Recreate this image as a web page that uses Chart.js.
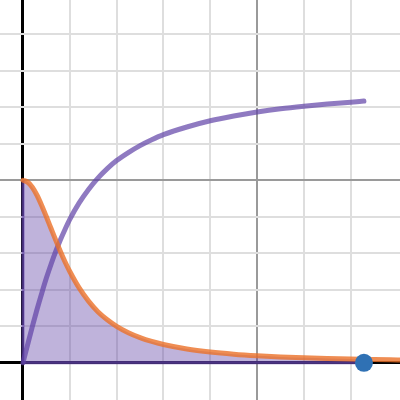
<!DOCTYPE html>
<html>
<head>
<meta charset="utf-8">
<script src="https://cdn.jsdelivr.net/npm/chart.js@4"></script>
<style>
  html, body { margin: 0; padding: 0; background: #fff; }
  canvas { display: block; }
</style>
</head>
<body>
<canvas id="graph" width="400" height="400"></canvas>
<script>
(() => {
  'use strict'

  // x positions (one grid square = 1)
  const xs = [0, 0.1, 0.2, 0.3, 0.4, 0.5, 0.6, 0.7, 0.8, 0.9, 1, 1.2, 1.4, 1.6, 1.8, 2,
    2.25, 2.5, 2.75, 3, 3.5, 4, 4.5, 5, 5.5, 6, 6.5, 7, 7.28, 7.5, 8, 8.1];
  // orange curve (bell-shaped decay)
  const orangeY = [5, 4.95, 4.81, 4.59, 4.31, 4.0, 3.68, 3.36, 3.05, 2.76, 2.5, 2.05, 1.69, 1.40, 1.18, 1.0,
    0.825, 0.69, 0.584, 0.5, 0.377, 0.294, 0.235, 0.192, 0.16, 0.135, 0.116, 0.1, 0.093, 0.087, 0.077, 0.075];
  // purple curve (running area under the orange one), stops at the dot
  const purpleY = [0, 0.5, 0.99, 1.46, 1.9, 2.32, 2.7, 3.05, 3.37, 3.66, 3.93, 4.38, 4.75, 5.06, 5.32, 5.54,
    5.76, 5.95, 6.11, 6.25, 6.46, 6.63, 6.76, 6.87, 6.96, 7.03, 7.09, 7.14, 7.17];
  const dotX = 7.28;
  const dotY = 0;
  const xTicks = [0, 1, 2, 3, 4, 5, 6, 7];
  const yTicks = [0, 1, 2, 3, 4, 5, 6, 7, 8, 9];

  const toPoints = (ys) => ys.map((y, i) => ({ x: xs[i], y: y }));
  const shaded = toPoints(orangeY).filter(p => p.x <= dotX);

  const gridColor = (ctx) => {
    const v = ctx.tick.value;
    if (v === 0) return '#000';
    if (v === 5) return '#9a9a9a';
    return '#dedede';
  };
  const gridWidth = (ctx) => {
    const v = ctx.tick.value;
    if (v === 0) return 3;
    return 2;
  };

  const ctx = document.getElementById('graph');
  const graph = new Chart(ctx, {
    type: 'line',
    data: {
      datasets: [{
        // moving point
        type: 'scatter',
        data: [{ x: dotX, y: dotY }],
        pointRadius: 9,
        pointBackgroundColor: '#2f71b4',
        pointBorderWidth: 0
      }, {
        data: toPoints(orangeY),
        borderColor: 'rgba(235, 112, 40, 0.8)',
        borderWidth: 5,
        borderCapStyle: 'round',
        borderJoinStyle: 'round',
        cubicInterpolationMode: 'monotone',
        pointRadius: 0,
        fill: false
      }, {
        data: toPoints(purpleY),
        borderColor: 'rgba(96, 66, 166, 0.7)',
        borderWidth: 5,
        borderCapStyle: 'round',
        borderJoinStyle: 'round',
        cubicInterpolationMode: 'monotone',
        pointRadius: 0,
        fill: false
      }, {
        // edges of the shaded region
        data: [{ x: 0, y: orangeY[0] }, { x: 0, y: 0 }, { x: dotX, y: 0 }],
        borderColor: 'rgba(96, 66, 166, 0.7)',
        borderWidth: 3,
        tension: 0,
        pointRadius: 0,
        fill: false
      }, {
        // shaded area under the orange curve
        data: shaded,
        borderWidth: 0,
        borderColor: 'transparent',
        backgroundColor: 'rgba(96, 66, 166, 0.4)',
        cubicInterpolationMode: 'monotone',
        pointRadius: 0,
        fill: 'origin'
      }]
    },
    options: {
      responsive: false,
      animation: false,
      layout: { padding: 0, autoPadding: false },
      scales: {
        x: {
          type: 'linear',
          min: -0.49,
          max: 8.05,
          afterBuildTicks: (scale) => { scale.ticks = xTicks.map(v => ({ value: v })) },
          ticks: { display: false },
          border: { display: false },
          grid: { drawTicks: false, color: gridColor, lineWidth: gridWidth }
        },
        y: {
          type: 'linear',
          min: -1.02,
          max: 9.94,
          afterBuildTicks: (scale) => { scale.ticks = yTicks.map(v => ({ value: v })) },
          ticks: { display: false },
          border: { display: false },
          grid: { drawTicks: false, color: gridColor, lineWidth: gridWidth }
        }
      },
      plugins: {
        legend: { display: false },
        tooltip: { enabled: false }
      }
    }
  });

})();
</script>
</body>
</html>
